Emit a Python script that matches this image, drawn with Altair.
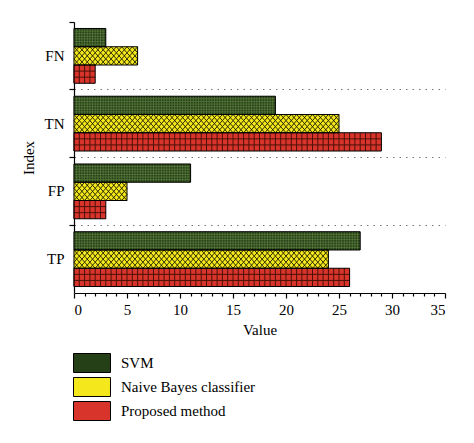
import altair as alt
import pandas as pd

# ---- data ----
indices = ["FN", "TN", "FP", "TP"]
series = ["SVM", "Naive Bayes classifier", "Proposed method"]
svm = [3, 19, 11, 27]
naive_bayes = [6, 25, 5, 24]
proposed = [2, 29, 3, 26]
x_ticks = list(range(0, 36))

rows = []
for name, vals in zip(series, [svm, naive_bayes, proposed]):
    for idx, v in zip(indices, vals):
        rows.append({"Index": idx, "Series": name, "Value": v})
df = pd.DataFrame(rows)

# ---- styling ----
FONT = "Liberation Serif"
W, H = 371, 271
fill_colors = ["#253f17", "#f4e81c", "#d9342b"]
legend_colors = ["#2c4a1c", "#d8cc22", "#c8322a"]
line_colors = ["#5f8040", "#1a1a00", "#4a1208"]
line_widths = [0.7, 0.9, 1.0]

unit_px = W / 35.0
step = H / 4.0
p_out = 0.355
bar_h = step / (3 + 2 * p_out)
S = 20.0  # symbol side (size = S^2)


def to_path(segs, w, h):
    out = []
    for (x1, y1), (x2, y2) in segs:
        nx1, ny1 = (x1 - w / 2) / (S / 2), (y1 - h / 2) / (S / 2)
        nx2, ny2 = (x2 - w / 2) / (S / 2), (y2 - h / 2) / (S / 2)
        out.append(f"M{nx1:.3f},{ny1:.3f}L{nx2:.3f},{ny2:.3f}")
    return "".join(out)


def grid_tile(ncol, nrow, w, h):
    segs = []
    for i in range(ncol):
        x = i * w / ncol
        segs.append(((x, 0), (x, h)))
    for j in range(1, nrow):
        y = j * h / nrow
        segs.append(((0, y), (w, y)))
    return to_path(segs, w, h)


def cross_tile(ncol, nrow, w, h):
    dx, dy = w / ncol, h / nrow
    segs = []
    for k in range(0, ncol + nrow + 1):
        u0, u1 = max(0, k - nrow), min(ncol, k)
        if u1 > u0:
            segs.append(((u0 * dx, (k - u0) * dy), (u1 * dx, (k - u1) * dy)))
    for k in range(-nrow, ncol + 1):
        u0, u1 = max(0, k), min(ncol, nrow + k)
        if u1 > u0:
            segs.append(((u0 * dx, (u0 - k) * dy), (u1 * dx, (u1 - k) * dy)))
    return to_path(segs, w, h)


patterns = [
    grid_tile(4, 7, unit_px, bar_h),
    cross_tile(2, 3, unit_px, bar_h),
    grid_tile(2, 3, unit_px, bar_h),
]

y_scale = alt.Scale(domain=indices, paddingInner=0, paddingOuter=0)
yoff_scale = alt.Scale(domain=series, paddingInner=0, paddingOuter=p_out)
x_scale = alt.Scale(domain=[0, 35], nice=False, zero=True)

x_axis = alt.Axis(
    values=x_ticks,
    labelExpr="datum.value % 5 === 0 ? datum.label : ''",
    tickSize={"condition": {"test": "datum.value % 5 === 0", "value": 5}, "value": 3},
    grid=False,
    title="Value",
    labelPadding=4,
    titlePadding=5,
)
y_axis = alt.Axis(
    bandPosition=0,
    tickSize=5,
    labelPadding=5,
    grid=True,
    gridDash=[1.5, 5],
    gridColor="#777777",
    gridOpacity={"condition": {"test": "datum.value === 'FN'", "value": 0}, "value": 1},
    title="Index",
    titlePadding=8,
)

base = alt.Chart(df)

LEG_S = 19.0
half_w = 18.5 / (LEG_S / 2)
legend_symbol = f"M{-half_w:.3f},-1H{half_w:.3f}V1H{-half_w:.3f}Z"

bars_fill = base.mark_bar(strokeWidth=0).encode(
    x=alt.X("Value:Q", scale=x_scale, axis=x_axis, title="Value"),
    y=alt.Y("Index:N", scale=y_scale, sort=indices, axis=y_axis, title="Index"),
    yOffset=alt.YOffset("Series:N", scale=yoff_scale, sort=series),
    fill=alt.Fill(
        "Series:N",
        scale=alt.Scale(domain=series, range=fill_colors),
        legend=alt.Legend(
            title=None,
            orient="none",
            legendX=8,
            legendY=331,
            symbolType=legend_symbol,
            symbolSize=LEG_S * LEG_S,
            symbolStrokeColor="black",
            symbolStrokeWidth=1,
            symbolOpacity=1,
            labelFont=FONT,
            labelFontSize=15,
            labelColor="black",
            labelOffset=19,
            rowPadding=0,
            padding=0,
            labelLimit=300,
        ),
    ),
)

layers = [bars_fill]
for name, path, lc, lw in zip(series, patterns, line_colors, line_widths):
    layers.append(
        base.transform_filter(alt.datum.Series == name)
        .transform_calculate(tiles="sequence(0, datum.Value)")
        .transform_flatten(["tiles"])
        .transform_calculate(cx="datum.tiles + 0.5")
        .mark_point(filled=False, size=S * S, opacity=1, shape=path, stroke=lc, strokeWidth=lw)
        .encode(
            x=alt.X("cx:Q", scale=x_scale, axis=x_axis, title="Value"),
            y=alt.Y("Index:N", scale=y_scale, sort=indices, axis=y_axis, title="Index"),
            yOffset=alt.YOffset("Series:N", scale=yoff_scale, sort=series),
        )
    )

bars_outline = base.mark_bar(fillOpacity=0, stroke="black", strokeWidth=1).encode(
    x=alt.X("Value:Q", scale=x_scale, axis=x_axis, title="Value"),
    y=alt.Y("Index:N", scale=y_scale, sort=indices, axis=y_axis, title="Index"),
    yOffset=alt.YOffset("Series:N", scale=yoff_scale, sort=series),
)
layers.append(bars_outline)

chart = alt.layer(*layers).properties(
    width=W,
    height=H,
    autosize=alt.AutoSizeParams(type="none"),
    padding={"left": 74, "top": 22, "right": 29, "bottom": 150},
).configure_view(
    stroke=None
).configure_axis(
    domainColor="black",
    domainWidth=1.2,
    tickColor="black",
    tickWidth=1.2,
    labelColor="black",
    titleColor="black",
    labelFont=FONT,
    titleFont=FONT,
    labelFontSize=15,
    titleFontSize=15,
    titleFontWeight="normal",
).configure_legend(
    labelFont=FONT,
)

chart.save("out.html", embed_options={"renderer": "svg", "actions": False})
